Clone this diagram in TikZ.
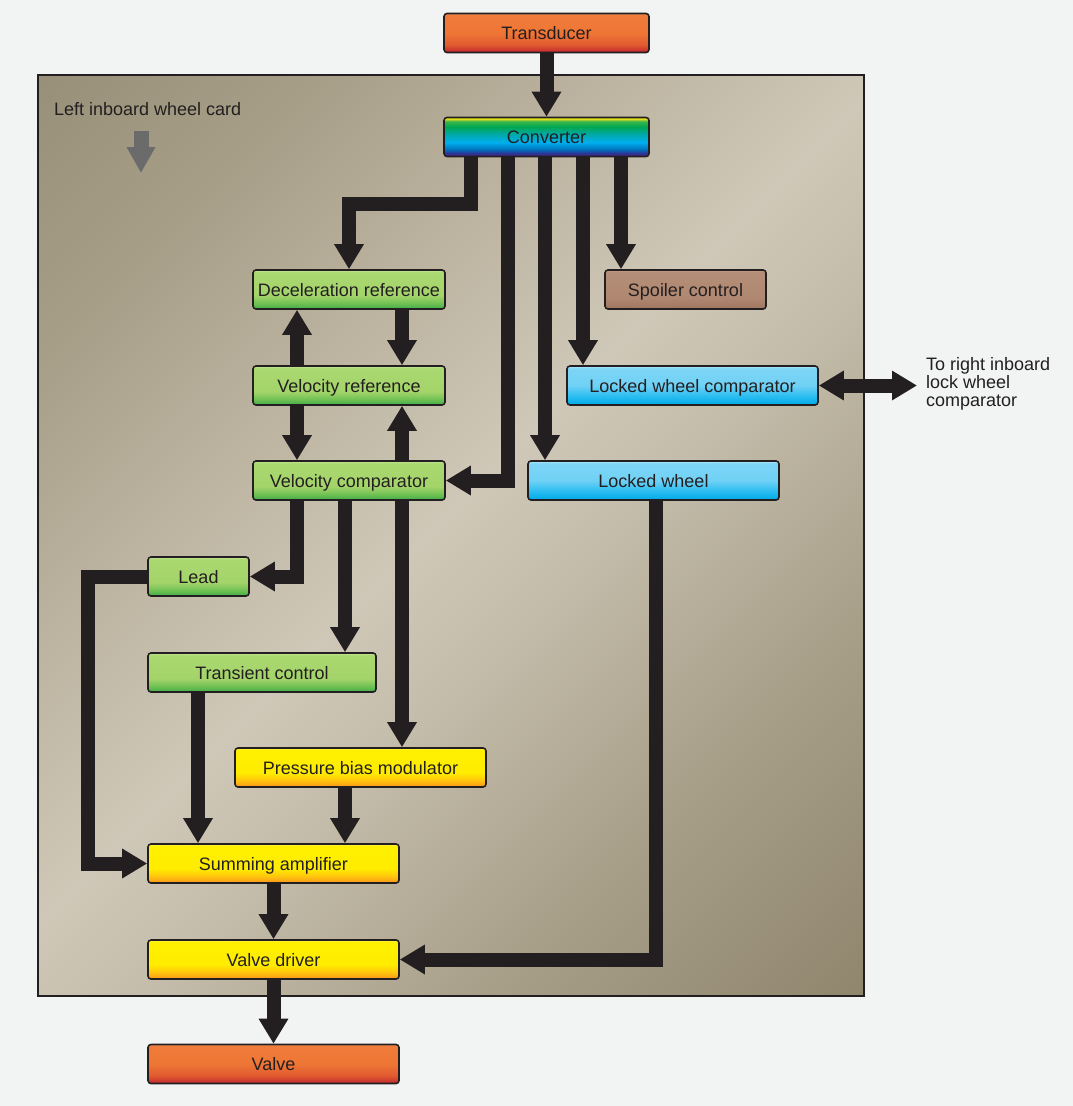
\documentclass[tikz,border=0pt]{standalone}
\usepackage{fontspec}
\setmainfont{Liberation Sans}
\usetikzlibrary{arrows.meta}

\definecolor{ink}{HTML}{231F20}
\definecolor{paper}{HTML}{F2F4F3}

% gradients of the boxes (path covers 25bp..75bp)
\pgfdeclareverticalshading{cardshade}{100bp}{color(0bp)=(rgb,255:red,140;green,130;blue,106); color(14bp)=(rgb,255:red,143;green,133;blue,109); color(30bp)=(rgb,255:red,168;green,159;blue,137); color(44bp)=(rgb,255:red,196;green,189;blue,171); color(51bp)=(rgb,255:red,207;green,200;blue,184); color(60bp)=(rgb,255:red,192;green,184;blue,165); color(74bp)=(rgb,255:red,167;green,158;blue,136); color(86bp)=(rgb,255:red,152;green,143;blue,120); color(100bp)=(rgb,255:red,152;green,143;blue,120)}
\pgfdeclareverticalshading{grnshade}{100bp}{color(0bp)=(rgb,255:red,60;green,172;blue,72); color(25bp)=(rgb,255:red,60;green,172;blue,72); color(32bp)=(rgb,255:red,110;green,192;blue,82); color(42bp)=(rgb,255:red,163;green,212;blue,106); color(72bp)=(rgb,255:red,170;green,216;blue,112); color(75bp)=(rgb,255:red,200;green,230;blue,155); color(100bp)=(rgb,255:red,200;green,230;blue,155)}
\pgfdeclareverticalshading{yelshade}{100bp}{color(0bp)=(rgb,255:red,247;green,148;blue,29); color(25bp)=(rgb,255:red,247;green,148;blue,29); color(33bp)=(rgb,255:red,255;green,194;blue,14); color(43bp)=(rgb,255:red,255;green,236;blue,0); color(73bp)=(rgb,255:red,255;green,240;blue,0); color(75bp)=(rgb,255:red,255;green,246;blue,110); color(100bp)=(rgb,255:red,255;green,246;blue,110)}
\pgfdeclareverticalshading{blushade}{100bp}{color(0bp)=(rgb,255:red,0;green,169;blue,232); color(25bp)=(rgb,255:red,0;green,169;blue,232); color(36bp)=(rgb,255:red,40;green,188;blue,240); color(50bp)=(rgb,255:red,112;green,209;blue,245); color(72bp)=(rgb,255:red,125;green,213;blue,246); color(75bp)=(rgb,255:red,180;green,232;blue,247); color(100bp)=(rgb,255:red,180;green,232;blue,247)}
\pgfdeclareverticalshading{orgshade}{100bp}{color(0bp)=(rgb,255:red,193;green,39;blue,45); color(25bp)=(rgb,255:red,193;green,39;blue,45); color(35bp)=(rgb,255:red,224;green,90;blue,48); color(50bp)=(rgb,255:red,238;green,118;blue,53); color(73bp)=(rgb,255:red,240;green,124;blue,58); color(75bp)=(rgb,255:red,245;green,150;blue,90); color(100bp)=(rgb,255:red,245;green,150;blue,90)}
\pgfdeclareverticalshading{brnshade}{100bp}{color(0bp)=(rgb,255:red,160;green,117;blue,96); color(25bp)=(rgb,255:red,160;green,117;blue,96); color(40bp)=(rgb,255:red,176;green,136;blue,114); color(73bp)=(rgb,255:red,181;green,142;blue,120); color(75bp)=(rgb,255:red,205;green,165;blue,140); color(100bp)=(rgb,255:red,205;green,165;blue,140)}
\pgfdeclareverticalshading{convshade}{100bp}{color(0bp)=(rgb,255:red,75;green,44;blue,141); color(25bp)=(rgb,255:red,75;green,44;blue,141); color(29bp)=(rgb,255:red,46;green,49;blue,146); color(34bp)=(rgb,255:red,0;green,114;blue,188); color(43bp)=(rgb,255:red,0;green,174;blue,239); color(55bp)=(rgb,255:red,0;green,169;blue,157); color(63bp)=(rgb,255:red,0;green,166;blue,81); color(70bp)=(rgb,255:red,57;green,181;blue,74); color(73bp)=(rgb,255:red,215;green,223;blue,35); color(75bp)=(rgb,255:red,255;green,242;blue,0); color(100bp)=(rgb,255:red,255;green,242;blue,0)}

\begin{document}
\begin{tikzpicture}[x=1pt, y=-1pt, font=\fontsize{18}{18}\selectfont, line join=miter, >={Triangle[length=25pt,width=28pt]},
 box/.style={draw=ink, line width=1.6pt, rounded corners=3pt, minimum height=39pt, inner sep=0pt, text=ink, text height=13pt, text depth=0pt, shade},
 grnbox/.style={box, shading=grnshade},
 yelbox/.style={box, shading=yelshade},
 blubox/.style={box, shading=blushade},
 orgbox/.style={box, shading=orgshade},
 brnbox/.style={box, shading=brnshade},
 convbox/.style={box, shading=convshade},
 flow/.style={->, line width=14pt, draw=ink}]
 \useasboundingbox[fill=paper] (0,0) rectangle (1073,1106);
 \draw[ink, line width=2pt, shade, shading=cardshade, shading angle=45] (38,75) rectangle (864,996);
 \node[anchor=west, text=ink] (cardlbl) at (50.5,109.5) {Left inboard wheel card};
 \draw[-{Triangle[length=26pt,width=27pt]}, line width=15pt, draw=black!58] (141,131) -- (141,173);

 \node[orgbox, minimum width=205pt] (trans) at (546.5,33) {Transducer};
 \node[convbox, minimum width=205pt] (conv) at (546.5,137) {Converter};
 \node[grnbox, minimum width=192pt] (dec) at (349,289.5) {Deceleration reference};
 \node[brnbox, minimum width=161pt] (spoil) at (685.5,289.5) {Spoiler control};
 \node[grnbox, minimum width=192pt] (vref) at (349,385.5) {Velocity reference};
 \node[blubox, minimum width=251pt] (lwc) at (692.5,385.5) {Locked wheel comparator};
 \node[grnbox, minimum width=192pt] (velc) at (349,480.5) {Velocity comparator};
 \node[blubox, minimum width=251pt] (lw) at (653.5,480.5) {Locked wheel};
 \node[grnbox, minimum width=101pt] (lead) at (198.5,576.5) {Lead};
 \node[grnbox, minimum width=228pt] (trc) at (262,672.5) {Transient control};
 \node[yelbox, minimum width=251pt] (pbm) at (360.5,767.5) {Pressure bias modulator};
 \node[yelbox, minimum width=251pt] (sum) at (273.5,863.5) {Summing amplifier};
 \node[yelbox, minimum width=251pt] (vd) at (273.5,959.5) {Valve driver};
 \node[orgbox, minimum width=251pt] (valve) at (273.5,1064) {Valve};
 \node[anchor=west, align=left, inner xsep=9pt, text=ink] (rtxt) at (917,384) {To right inboard\\lock wheel\\comparator};

 % converter outputs
 \draw[flow] (trans.south) -- (conv.north);
 \draw[flow] ([xshift=-75.5pt]conv.south) -- ++(0,47) -| (dec.north);
 \draw[flow] ([xshift=-38.5pt]conv.south) |- (velc.east);
 \draw[flow] ([xshift=-1.5pt]conv.south) -- ([xshift=-1.5pt]conv.south |- lw.north);
 \draw[flow] ([xshift=36.5pt]conv.south) -- ([xshift=36.5pt]conv.south |- lwc.north);
 \draw[flow] ([xshift=74.5pt]conv.south) -- ([xshift=74.5pt]conv.south |- spoil.north);
 \draw[flow] ([xshift=-52pt]vref.north) -- ([xshift=-52pt]dec.south);
 \draw[flow] ([xshift=53pt]dec.south) -- ([xshift=53pt]vref.north);
 \draw[flow] ([xshift=-52pt]vref.south) -- ([xshift=-52pt]velc.north);
 \draw[flow] ([xshift=53pt]velc.north) -- ([xshift=53pt]vref.south);
 \draw[flow, <->] (lwc.east) -- (rtxt.west |- lwc.east);
 % comparator outputs
 \draw[flow] ([xshift=-52pt]velc.south) |- (lead.east);
 \draw[flow] ([xshift=-4pt]velc.south) -- ([xshift=-4pt]velc.south |- trc.north);
 \draw[flow] ([xshift=53pt]velc.south) -- ([xshift=53pt]velc.south |- pbm.north);
 \draw[flow] (lead.west) -- ++(-59,0) |- (sum.west);
 \draw[flow] ([xshift=-64pt]trc.south) -- ([xshift=-64pt]trc.south |- sum.north);
 \draw[flow] ([xshift=-15.5pt]pbm.south) -- ([xshift=-15.5pt]pbm.south |- sum.north);
 \draw[flow] (sum.south) -- (vd.north);
 \draw[flow] ([xshift=2.5pt]lw.south) |- (vd.east);
 \draw[flow] (vd.south) -- (valve.north);
\end{tikzpicture}
\end{document}
